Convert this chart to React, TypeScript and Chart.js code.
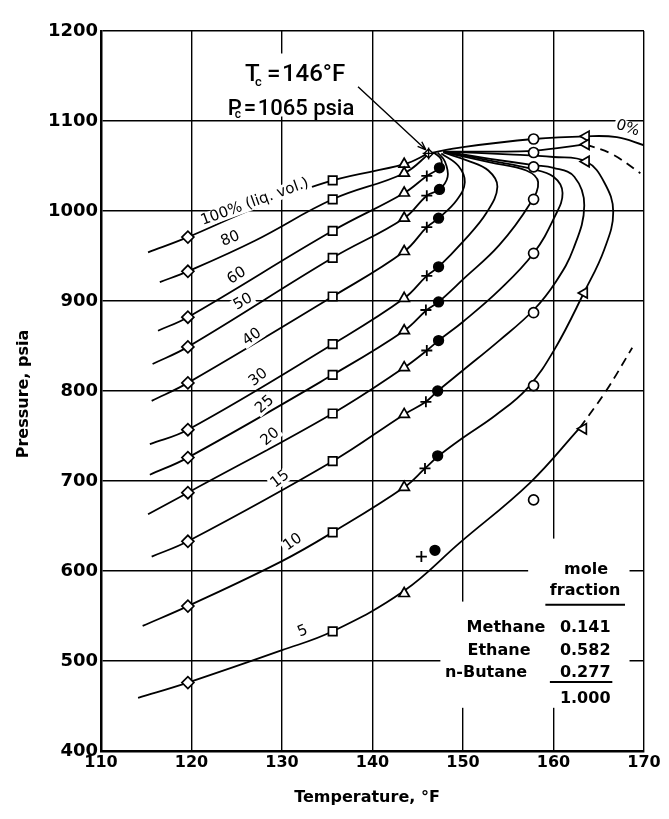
import React, { useEffect, useRef } from "react";
import { Chart, registerables } from "chart.js";

Chart.register(...registerables);

// ---------- axes ----------
const X_MIN = 110;
const X_MAX = 170;
const X_STEP = 10;
const Y_MIN = 400;
const Y_MAX = 1200;
const Y_STEP = 100;

// ---------- quality lines (% liquid volume): [temperature °F, pressure psia] ----------
const line100 = [[115.2, 954], [119.6, 971], [127.2, 1004], [135.6, 1034], [143.5, 1052], [146.2, 1064]];
const line80 = [[116.5, 921], [119.6, 933], [127, 967], [135.6, 1013], [143.5, 1042], [146.3, 1064]];
const line60 = [[116.3, 867], [119.6, 882], [135.6, 978], [143.5, 1020], [146.0, 1039], [147.4, 1048], [147.6, 1057], [146.8, 1065]];
const line50 = [[115.7, 830], [119.6, 849], [135.6, 948], [143.5, 992], [146.0, 1017], [147.4, 1024], [148.3, 1038], [148.0, 1055], [147.2, 1065]];
const line40 = [[115.6, 789], [119.6, 809], [135.6, 905], [143.5, 955], [146.0, 982], [147.3, 992], [149.3, 1012], [150.2, 1032], [149.5, 1050], [147.6, 1064]];
const line30 = [[115.4, 741], [119.6, 757], [135.6, 852], [143.5, 903], [146.0, 928], [147.3, 938], [150, 966], [152.6, 998], [153.8, 1027], [152.8, 1045], [150.5, 1056], [147.8, 1065]];
const line25 = [[115.4, 707], [119.6, 726], [135.6, 818], [143.5, 867], [146.0, 890], [147.3, 899], [150, 924], [154, 962], [157.4, 1008], [158.3, 1032], [157, 1045], [153, 1054], [148, 1065]];
const line20 = [[115.2, 663], [119.6, 687], [135.6, 775], [143.5, 826], [146.0, 845], [147.3, 856], [150, 877], [154, 912], [157.8, 953], [160.1, 993], [161, 1020], [160, 1038], [157.5, 1047], [153, 1056], [148, 1066]];
const line15 = [[115.6, 616], [119.6, 633], [135.6, 722], [143.5, 774], [145.9, 788], [147.2, 800], [150, 823], [154, 856], [157.8, 890], [160.3, 922], [162.2, 958], [163.4, 1006], [162.3, 1038], [160, 1048], [157.8, 1051], [153, 1058], [148, 1066]];
const line10 = [[114.6, 539], [119.6, 561], [130, 611], [135.6, 643], [143.5, 693], [145.8, 714], [147.2, 727], [150, 748], [153.6, 773], [157.1, 803], [160.1, 846], [163.4, 910], [165.6, 957], [166.6, 999], [165.6, 1032], [163.6, 1055], [160, 1060], [155, 1063], [148, 1066]];
const line5 = [[114.1, 459], [119.6, 476], [130, 512], [135.6, 533], [143.5, 578], [149.6, 631], [157.4, 698], [162.9, 759]];
const line5Ext = [[162.9, 759], [165.8, 800], [168.7, 848]];
const line5Upper = [[147.8, 1066], [153, 1066], [157.8, 1067], [163.6, 1074]];
const line5UpperExt = [[163.6, 1074], [166.5, 1063], [169.6, 1042]];
const line0 = [[146.2, 1064], [150, 1071], [157.8, 1080], [163.6, 1083], [167, 1082], [170, 1073]];

// ---------- measured points ----------
const diamondT = 119.6;
const diamondP = [971, 933, 882, 849, 809, 757, 726, 687, 633, 561, 476];
const squareT = 135.6;
const squareP = [1034, 1013, 978, 948, 905, 852, 818, 775, 722, 643, 533];
const triangleT = 143.5;
const triangleP = [1052, 1042, 1020, 992, 955, 903, 867, 826, 774, 693, 575];
const plusT = [146.0, 146.0, 146.0, 146.0, 145.9, 146.0, 145.9, 145.8, 145.4];
const plusP = [1039, 1017, 982, 928, 890, 845, 788, 714, 616];
const dotT = [147.4, 147.4, 147.3, 147.3, 147.3, 147.3, 147.2, 147.2, 146.9];
const dotP = [1048, 1024, 992, 938, 899, 856, 800, 728, 623];
const circleT = 157.8;
const circleP = [1080, 1065, 1049, 1013, 953, 887, 806, 679];
const leftTriT = [163.6, 163.6, 163.6, 163.4, 163.3];
const leftTriP = [1083, 1074, 1055, 909, 758];
const criticalT = [146.2];
const criticalP = [1064];

// ---------- texts ----------
const curveLabelText = ["100% (liq. vol.)", "80", "60", "50", "40", "30", "25", "20", "15", "10", "5", "0%"];
const curveLabelT = [127.0, 124.3, 125.0, 125.7, 126.7, 127.4, 128.1, 128.7, 129.8, 131.2, 132.3, 168.2];
const curveLabelP = [1010, 969, 928, 899, 860, 815, 785, 749, 702, 632, 533, 1092];
const curveLabelRot = [-20, -22, -32, -30, -35, -38, -42, -40, -38, -35, -22, 18];

const componentNames = ["Methane", "Ethane", "n-Butane"];
const componentFractions = ["0.141", "0.582", "0.277"];
const fractionTotal = "1.000";

const pairs = (arr: number[][]) => arr.map(([x, y]) => ({ x, y }));

const annotationPlugin = {
  id: "phaseAnnotations",
  beforeDatasetsDraw(chart: any) {
    const { ctx, scales } = chart;
    const X = (v: number) => scales.x.getPixelForValue(v);
    const Y = (v: number) => scales.y.getPixelForValue(v);
    ctx.save();
    ctx.fillStyle = "#fff";
    const box = (t1: number, t2: number, p1: number, p2: number) =>
      ctx.fillRect(X(t1), Y(p2), X(t2) - X(t1), Y(p1) - Y(p2));
    box(125.1, 139.0, 1105, 1175);
    box(157.2, 168.4, 560, 636);
    box(147.5, 168.4, 448, 566);
    ctx.restore();
  },
  afterDatasetsDraw(chart: any) {
    const { ctx, scales } = chart;
    const X = (v: number) => scales.x.getPixelForValue(v);
    const Y = (v: number) => scales.y.getPixelForValue(v);
    ctx.save();
    // curve labels
    curveLabelText.forEach((txt, i) => {
      ctx.save();
      ctx.translate(X(curveLabelT[i]), Y(curveLabelP[i]));
      ctx.rotate((curveLabelRot[i] * Math.PI) / 180);
      ctx.font = '15px "DejaVu Sans"';
      const w = ctx.measureText(txt).width;
      ctx.fillStyle = "#fff";
      ctx.fillRect(-w / 2 - 2, -7, w + 4, 14);
      ctx.fillStyle = "#000";
      ctx.textAlign = "center";
      ctx.textBaseline = "middle";
      ctx.fillText(txt, 0, 0);
      ctx.restore();
    });

    // critical point text
    ctx.fillStyle = "#000";
    ctx.textAlign = "left";
    ctx.textBaseline = "alphabetic";
    let x0 = X(125.9);
    let y0 = Y(1145);
    ctx.font = "500 24px Roboto";
    ctx.fillText("T", x0, y0);
    ctx.font = "500 13px Roboto";
    ctx.fillText("c", x0 + 10, y0 + 5);
    ctx.font = "500 24px Roboto";
    ctx.fillText("=", x0 + 22, y0);
    ctx.fillText("146°F", x0 + 37, y0);

    x0 = X(124.0);
    y0 = Y(1107);
    ctx.font = "500 22px Roboto";
    ctx.fillText("P", x0, y0);
    ctx.font = "500 12px Roboto";
    ctx.fillText("c", x0 + 7, y0 + 3);
    ctx.font = "500 22px Roboto";
    ctx.fillText("=", x0 + 16, y0);
    ctx.fillText("1065 psia", x0 + 30, y0);

    // arrow
    const ax1 = X(138.4), ay1 = Y(1138), ax2 = X(145.9), ay2 = Y(1068);
    ctx.strokeStyle = "#000";
    ctx.lineWidth = 1.4;
    ctx.beginPath();
    ctx.moveTo(ax1, ay1);
    ctx.lineTo(ax2, ay2);
    const ang = Math.atan2(ay2 - ay1, ax2 - ax1);
    ctx.moveTo(ax2, ay2);
    ctx.lineTo(ax2 - 9 * Math.cos(ang - 0.35), ay2 - 9 * Math.sin(ang - 0.35));
    ctx.moveTo(ax2, ay2);
    ctx.lineTo(ax2 - 9 * Math.cos(ang + 0.35), ay2 - 9 * Math.sin(ang + 0.35));
    ctx.stroke();

    // composition table
    ctx.font = 'bold 16px "DejaVu Sans"';
    ctx.textAlign = "center";
    ctx.textBaseline = "middle";
    ctx.fillText("mole", X(163.6), Y(601.6));
    ctx.fillText("fraction", X(163.5), Y(578));
    ctx.lineWidth = 2;
    ctx.beginPath();
    ctx.moveTo(X(159.1), Y(562.6));
    ctx.lineTo(X(167.9), Y(562.6));
    ctx.moveTo(X(159.6), Y(476.8));
    ctx.lineTo(X(166.5), Y(476.8));
    ctx.stroke();
    ctx.textBaseline = "alphabetic";
    const nameT = [150.4, 150.5, 148.0];
    const rowP = [532.5, 507, 482.4];
    componentNames.forEach((n, i) => {
      ctx.textAlign = "left";
      ctx.fillText(n, X(nameT[i]), Y(rowP[i]));
      ctx.textAlign = "right";
      ctx.fillText(componentFractions[i], X(166.3), Y(rowP[i]));
    });
    ctx.textAlign = "right";
    ctx.fillText(fractionTotal, X(166.3), Y(453.5));
    ctx.restore();
  },
  afterDraw(chart: any) {
    const { ctx } = chart;
    ctx.save();
    ctx.fillStyle = "#000";
    ctx.font = 'bold 16px "DejaVu Sans"';
    ctx.textAlign = "center";
    ctx.textBaseline = "middle";
    ctx.fillText("Temperature, °F", 367, 798);
    ctx.translate(24, 394);
    ctx.rotate(-Math.PI / 2);
    ctx.fillText("Pressure, psia", 0, 0);
    ctx.restore();
  },
};

export default function App() {
  const ref = useRef<HTMLCanvasElement | null>(null);
  useEffect(() => {
    document.body.style.margin = "0";
    const canvas = ref.current!;
    const curve = (arr: number[][], dashed = false) => ({
      type: "line",
      data: pairs(arr),
      borderColor: "#000",
      borderWidth: 1.8,
      borderDash: dashed ? [9, 6] : [],
      pointRadius: 0,
      tension: 0.4,
      fill: false,
      order: 2,
    });
    const marker = (t: number[] | number, p: number[], style: any, radius: number, extra: any = {}) => ({
      type: "line",
      data: p.map((v, i) => ({ x: Array.isArray(t) ? t[i] : t, y: v })),
      showLine: false,
      pointStyle: style,
      pointRadius: radius,
      pointBackgroundColor: "#fff",
      pointBorderColor: "#000",
      pointBorderWidth: 1.7,
      order: 0,
      ...extra,
    });
    const datasets: any[] = [
      ...[line100, line80, line60, line50, line40, line30, line25, line20, line15, line10, line5, line5Upper, line0].map((l) => curve(l)),
      curve(line5Ext, true),
      curve(line5UpperExt, true),
      marker(diamondT, diamondP, "rectRot", 6),
      marker(squareT, squareP, "rect", 6),
      marker(triangleT, triangleP, "triangle", 6),
      marker(plusT, plusP, "cross", 5.5, { pointBorderWidth: 1.8 }),
      marker(dotT, dotP, "circle", 4.8, { pointBackgroundColor: "#000" }),
      marker(circleT, circleP, "circle", 5),
      marker(leftTriT, leftTriP, "triangle", 6, { pointRotation: -90 }),
      marker(criticalT, criticalP, "cross", 6, { pointBorderWidth: 1.4, order: -1 }),
      marker(criticalT, criticalP, "rectRot", 4.5, { pointBorderWidth: 1.4 }),
    ];
    const chart = new Chart(canvas, {
      type: "line",
      data: { datasets },
      plugins: [annotationPlugin],
      options: {
        animation: false,
        responsive: false,
        devicePixelRatio: 1,
        layout: { padding: { top: 31, right: 25, left: 0, bottom: 0 } },
        plugins: { legend: { display: false }, tooltip: { enabled: false } },
        scales: {
          x: {
            type: "linear",
            min: X_MIN,
            max: X_MAX,
            ticks: { stepSize: X_STEP, color: "#000", font: { family: "DejaVu Sans", size: 16, weight: "bold" }, padding: 2, maxRotation: 0, callback: (v: any) => String(v) },
            grid: { color: "#000", lineWidth: 1.4, drawTicks: false },
            border: { color: "#000", width: 2.5 },
            afterFit: (s: any) => { s.height = 68; },
          },
          y: {
            type: "linear",
            min: Y_MIN,
            max: Y_MAX,
            ticks: { stepSize: Y_STEP, color: "#000", font: { family: "DejaVu Sans", size: 18, weight: "bold" }, padding: 3, callback: (v: any) => String(v) },
            grid: { color: "#000", lineWidth: 1.4, drawTicks: false },
            border: { color: "#000", width: 2.5 },
            afterFit: (s: any) => { s.width = 101; },
          },
        },
      } as any,
    } as any);
    return () => chart.destroy();
  }, []);
  return (
    <div style={{ width: 669, height: 819, background: "#fff" }}>
      <canvas ref={ref} width={669} height={819} style={{ display: "block" }} />
    </div>
  );
}
